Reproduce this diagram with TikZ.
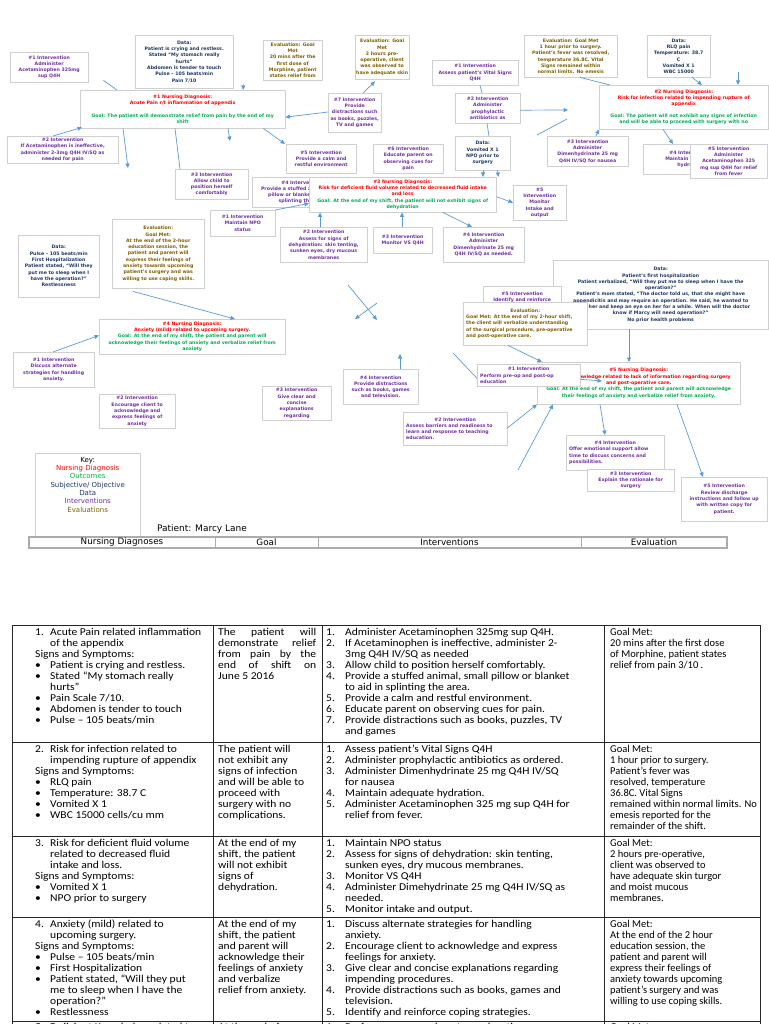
\documentclass[tikz,border=0pt]{standalone}
\usepackage{fontspec}
\usepackage{tikz}
\usetikzlibrary{arrows.meta}
\newfontfamily\mapfont{DejaVu Sans}
\newfontfamily\keyfont{DejaVu Sans}
\newfontfamily\tabfont[FakeStretch=1.1]{Carlito}
\newfontfamily\evalfont{Carlito}
\definecolor{dxred}{HTML}{FF0000}
\definecolor{goalgreen}{HTML}{00B050}
\definecolor{datanavy}{HTML}{1F3864}
\definecolor{intvpurple}{HTML}{7030A0}
\definecolor{evalolive}{HTML}{7F6000}
\definecolor{linkblue}{HTML}{5B9BD5}
\definecolor{boxgray}{HTML}{D0D0D0}
\newcommand{\goaltxt}[1]{\textcolor{goalgreen}{#1}}
\newcommand{\dnum}[1]{\makebox[15pt][l]{#1.}}
\newcommand{\dind}{\hspace*{15pt}}
\newcommand{\bul}{\makebox[15pt][l]{\textbullet}}
\newcommand{\inum}[1]{\makebox[19pt][l]{#1.}}
\newcommand{\iind}{\hspace*{19pt}}
\begin{document}
\begin{tikzpicture}[x=1pt,y=-1pt,
  bx/.style={draw=boxgray,fill=white,anchor=north west,align=center,inner sep=1pt,
    font=\mapfont\bfseries\fontsize{4.7}{6.3}\selectfont,text=#1},
  arr/.style={-{Triangle[length=4.5pt,width=4pt]},draw=linkblue,line width=0.7pt},
  lnk/.style={draw=linkblue,line width=0.7pt},
  cell/.style={anchor=north west,align=left,inner sep=0pt,font=\tabfont\fontsize{10.5}{11}\selectfont},
  ecell/.style={cell,font=\evalfont\fontsize{10.5}{11}\selectfont},
  tbl/.style={draw=black!85,line width=0.6pt}]
\useasboundingbox (0,0) rectangle (768,1024);
% acute pain cluster
\node[bx=intvpurple,minimum width=78pt,minimum height=30pt] (iA1) at (10,52) {\#1 Intervention\\Administer\\Acetaminophen 325mg\\sup Q4H};
\node[bx=datanavy,minimum width=98pt,minimum height=53pt] (dat1) at (135,35) {Data:\\Patient is crying and restless.\\Stated “My stomach really\\hurts”\\Abdomen is tender to touch\\Pulse – 105 beats/min\\Pain 7/10};
\node[bx=dxred,minimum width=205pt,minimum height=38pt] (dx1) at (80,90) {\#1 Nursing Diagnosis:\\Acute Pain r/t inflammation of appendix\\[6pt]\goaltxt{Goal: The patient will demonstrate relief from pain by the end of my}\\\goaltxt{shift}};
\node[bx=intvpurple,minimum width=111pt,minimum height=27pt] (iA2) at (7,136) {\#2 Intervention\\If Acetaminophen is ineffective,\\administer 2-3mg Q4H IV/SQ as\\needed for pain};
\node[bx=evalolive,minimum width=59pt,minimum height=40pt] (ev1) at (263,40) {Evaluation: Goal\\Met\\20 mins after the\\first dose of\\Morphine, patient\\states relief from};
\node[bx=evalolive,minimum width=52pt,minimum height=44pt] (ev3) at (355,35) {Evaluation: Goal\\Met\\2 hours pre-\\operative, client\\was observed to\\have adequate skin};
\node[bx=intvpurple,minimum width=53pt,minimum height=39pt] (iA7) at (328,93) {\#7 Intervention\\Provide\\distractions such\\as books, puzzles,\\TV and games};
\node[bx=intvpurple,minimum width=73pt,minimum height=30pt] (iA3) at (175,169) {\#3 Intervention\\Allow child to\\position herself\\comfortably};
\node[bx=intvpurple,minimum width=100pt,minimum height=30pt] (iA4) at (252,177) {\#4 Intervention\\Provide a stuffed animal, small\\pillow or blanket to aid in\\splinting the area};
\node[bx=intvpurple,minimum width=70pt,minimum height=29pt] (iA5) at (286,144) {\#5 Intervention\\Provide a calm and\\restful environment};
\node[bx=intvpurple,minimum width=70pt,minimum height=29pt] (iA6) at (373,144) {\#6 Intervention\\Educate parent on\\observing cues for\\pain};
% infection cluster
\node[bx=intvpurple,minimum width=86pt,minimum height=25pt] (iB1) at (432,60) {\#1 Intervention\\Assess patient’s Vital Signs\\Q4H};
\node[bx=intvpurple,minimum width=65pt,minimum height=30pt] (iB2) at (455,93) {\#2 Intervention\\Administer\\prophylactic\\antibiotics as};
\node[bx=datanavy,minimum width=55pt,minimum height=34pt] (dat3) at (455,136) {Data:\\Vomited X 1\\NPO prior to\\surgery};
\node[bx=evalolive,minimum width=93pt,minimum height=42pt] (ev2) at (524,35) {Evaluation: Goal Met\\1 hour prior to surgery.\\Patient’s fever was resolved,\\temperature 36.8C. Vital\\Signs remained within\\normal limits. No emesis};
\node[bx=datanavy,minimum width=63pt,minimum height=42pt] (dat2) at (647,35) {Data:\\RLQ pain\\Temperature: 38.7\\C\\Vomited X 1\\WBC 15000};
\node[bx=dxred,minimum width=169pt,minimum height=44pt] (dx2) at (599,85) {\#2 Nursing Diagnosis:\\Risk for infection related to impending rupture of\\appendix\\[5pt]\goaltxt{Goal: The patient will not exhibit any signs of infection}\\\goaltxt{and will be able to proceed with surgery with no}};
\node[bx=intvpurple,minimum width=81pt,minimum height=30pt] (iB3) at (547,136) {\#3 Intervention\\Administer\\Dimenhydrinate 25 mg\\Q4H IV/SQ for nausea};
\node[bx=intvpurple,minimum width=94pt,minimum height=30pt] (iB4) at (643,144) {\#4 Intervention\\Maintain adequate\\hydration};
\node[bx=intvpurple,minimum width=77pt,minimum height=34pt] (iB5) at (690,144) {\#5 Intervention\\Administer\\Acetaminophen 325\\mg sup Q4H for relief\\from fever};
% fluid volume cluster
\node[bx=dxred,minimum width=187pt,minimum height=35pt] (dx3) at (309,177) {\#3 Nursing Diagnosis:\\Risk for deficient fluid volume related to decreased fluid intake\\and loss\\\goaltxt{Goal: At the end of my shift, the patient will not exhibit signs of}\\\goaltxt{dehydration}};
\node[bx=intvpurple,minimum width=65pt,minimum height=26pt] (iC1) at (210,210) {\#1 Intervention\\Maintain NPO\\status};
\node[bx=intvpurple,minimum width=53pt,minimum height=35pt] (iC5) at (513,185) {\#5\\Intervention\\Monitor\\Intake and\\output};
\node[bx=intvpurple,minimum width=87pt,minimum height=35pt] (iC2) at (280,227) {\#2 Intervention\\Assess for signs of\\dehydration: skin tenting,\\sunken eyes, dry mucous\\membranes};
\node[bx=intvpurple,minimum width=59pt,minimum height=26pt] (iC3) at (373,227) {\#3 Intervention\\Monitor VS Q4H};
\node[bx=intvpurple,minimum width=81pt,minimum height=35pt] (iC4) at (443,227) {\#4 Intervention\\Administer\\Dimenhydrinate 25 mg\\Q4H IV/SQ as needed.};
% anxiety cluster
\node[bx=datanavy,minimum width=81pt,minimum height=62pt] (dat4) at (18,235) {Data:\\Pulse – 105 beats/min\\First Hospitalization\\Patient stated, “Will they\\put me to sleep when I\\have the operation?”\\Restlessness};
\node[bx=evalolive,minimum width=92pt,minimum height=69pt] (ev4) at (112,219) {Evaluation:\\Goal Met:\\At the end of the 2-hour\\education session, the\\patient and parent will\\express their feelings of\\anxiety towards upcoming\\patient’s surgery and was\\willing to use coping skills.};
\node[bx=dxred,minimum width=186pt,minimum height=35pt] (dx4) at (99,319) {\#4 Nursing Diagnosis:\\Anxiety (mild) related to upcoming surgery.\\\goaltxt{Goal: At the end of my shift, the patient and parent will}\\\goaltxt{acknowledge their feelings of anxiety and verbalize relief from}\\\goaltxt{anxiety}};
\node[bx=intvpurple,minimum width=81pt,minimum height=35pt] (iD1) at (13,352) {\#1 Intervention\\Discuss alternate\\strategies for handling\\anxiety.};
\node[bx=intvpurple,minimum width=76pt,minimum height=34pt] (iD2) at (99,394) {\#2 Intervention\\Encourage client to\\acknowledge and\\express feelings of\\anxiety};
\node[bx=intvpurple,minimum width=69pt,minimum height=34pt] (iD3) at (262,386) {\#3 Intervention\\Give clear and\\concise\\explanations\\regarding};
\node[bx=intvpurple,minimum width=75pt,minimum height=35pt] (iD4) at (343,369) {\#4 Intervention\\Provide distractions\\such as books, games\\and television.};
% knowledge cluster
\node[bx=datanavy,minimum width=215pt,minimum height=69pt] (dat5) at (553,260) {Data:\\Patient’s first hospitalization\\Patient verbalized, “Will they put me to sleep when I have the\\operation?”\\Patient’s mom stated, “The doctor told us, that she might have\\appendicitis and may require an operation. He said, he wanted to\\watch her and keep an eye on her for a while. When will the doctor\\know if Marcy will need operation?”\\No prior health problems};
\node[bx=intvpurple,minimum width=78pt,minimum height=28pt] (iD5) at (483,286) {\#5 Intervention\\Identify and reinforce\\coping strategies};
\node[bx=evalolive,text width=118pt,align=left,inner sep=3pt,minimum height=43pt] (ev5) at (463,302) {\makebox[\hsize]{Evaluation:}\\Goal Met: At the end of my 2-hour shift,\\the client will verbalize understanding\\of the surgical procedure, pre-operative\\and post-operative care.};
\node[bx=dxred,minimum width=203pt,minimum height=42pt] (dx5) at (537,362) {\#5 Nursing Diagnosis:\\Deficient Knowledge related to lack of information regarding surgery\\and post-operative care.\\\goaltxt{Goal: At the end of my shift, the patient and parent will acknowledge}\\\goaltxt{their feelings of anxiety and verbalize relief from anxiety.}};
\node[bx=intvpurple,text width=97pt,align=left,inner sep=3pt,minimum height=22pt] (iE1) at (477,364) {\makebox[\hsize]{\#1 Intervention}\\Perform pre-op and post-op\\education};
\node[bx=intvpurple,text width=98pt,align=left,inner sep=3pt,minimum height=33pt] (iE2) at (403,412) {\makebox[\hsize]{\#2 Intervention}\\Assess barriers and readiness to\\learn and response to teaching\\education.};
\node[bx=intvpurple,text width=92pt,align=left,inner sep=3pt,minimum height=35pt] (iE4) at (566,435) {\makebox[\hsize]{\#4 Intervention}\\Offer emotional support allow\\time to discuss concerns and\\possibilities.};
\node[bx=intvpurple,minimum width=87pt,minimum height=22pt] (iE3) at (587,469) {\#3 Intervention\\Explain the rationale for\\surgery};
\node[bx=intvpurple,minimum width=86pt,minimum height=44pt] (iE5) at (681,477) {\#5 Intervention\\Review discharge\\instructions and follow up\\with written copy for\\patient.};
% key
\node[draw=boxgray,fill=white,anchor=north west,minimum width=105pt,minimum height=84pt] (key) at (35,453) {};
\node[anchor=north,align=center,inner sep=0pt,font=\keyfont\fontsize{7}{8.3}\selectfont] (keytxt) at ([yshift=-4pt]key.north) {Key:\\\textcolor{dxred}{Nursing Diagnosis}\\\textcolor{goalgreen}{Outcomes}\\\textcolor{datanavy}{Subjective/ Objective}\\\textcolor{datanavy}{Data}\\\textcolor{intvpurple}{Interventions}\\\textcolor{evalolive}{Evaluations}};
% connectors
\draw[lnk] ([xshift=15pt,yshift=2pt]iA1.south east) -- ([xshift=37pt]dx1.north west);
\draw[arr] ([xshift=10pt,yshift=4pt]dat1.south east) -- ([xshift=163pt]dx1.north west);
\draw[arr] ([xshift=46pt]iA2.north west) -- ([xshift=2pt,yshift=1pt]dx1.south west);
\coordinate (p1) at (128,168);
\coordinate (p2) at (230,141);
\draw[arr] ([xshift=43pt]dx1.south west) -- (p1);
\draw[lnk] ([xshift=95pt]dx1.south west) -- ([xshift=5pt]iA3.north west);
\draw[arr] ([xshift=148pt]dx1.south west) -- (p2);
\draw[arr] ([yshift=-19pt]iA7.north west) -- ([yshift=-8pt]dx1.east);
\draw[arr] ([xshift=35pt]iA7.north west) -- ([xshift=20pt,yshift=-2pt]ev3.south west);
\draw[arr] ([xshift=-22pt]dx1.south east) -- ([xshift=-1pt]iA5.north west);
\draw[lnk] ([xshift=48pt]iB1.south west) -- ([xshift=27pt]iB2.north west);
\draw[lnk] ([xshift=32pt]iB2.south west) -- ([xshift=34pt]dat3.north west);
\draw[lnk] ([xshift=56pt]ev2.south west) -- ([xshift=11pt]dx2.north west);
\draw[arr] ([xshift=45pt]dat2.south west) -- ([xshift=103pt]dx2.north west);
\coordinate (q1) at (738,72);
\coordinate (q2) at (568,110);
\coordinate (q3) at (537,135);
\coordinate (q4) at (567,119);
\draw[arr] (q1) -- ([xshift=139pt]dx2.north west);
\draw[arr] ([yshift=-2pt]iB2.east) -- (q2);
\draw[lnk] (q3) -- (q4);
\draw[arr] ([xshift=49pt]iB3.north west) -- (dx2.south west);
\draw[arr] ([xshift=64pt]dx2.south west) -- ([xshift=30pt]iB4.north west);
\draw[arr] ([xshift=28pt]dat3.south west) -- ([xshift=174pt]dx3.north west);
\draw[arr] ([xshift=-13pt]dat3.south east) -- ([xshift=2pt]dx3.north east);
\draw[arr] ([yshift=-2pt]dx3.east) -- (iC5.west);
\draw[arr] ([xshift=40pt]iC2.north west) -- ([xshift=11pt]dx3.south west);
\draw[arr] ([xshift=29pt]iC3.north west) -- ([xshift=93pt]dx3.south west);
\draw[arr] ([xshift=134pt]dx3.south west) -- ([xshift=29pt]iC4.north west);
\draw[arr] (iC1.north east) -- ([yshift=9pt]dx3.south west);
\draw[arr] ([xshift=21pt,yshift=-3pt]ev4.south west) -- ([xshift=136pt]dx4.north west);
\draw[arr] ([xshift=40pt]iD1.north west) -- ([yshift=19pt]dx4.south west);
\coordinate (a1) at (348,285);
\coordinate (a2) at (377,320);
\coordinate (a3) at (377,303);
\coordinate (a4) at (355,319);
\coordinate (a5) at (400,354);
\draw[arr] (a1) -- (a2);
\draw[arr] (a3) -- (a4);
\draw[arr] ([xshift=57pt]iD4.north west) -- (a5);
\coordinate (k1) at (453,353);
\coordinate (k2) at (602,381);
\coordinate (k3) at (518,470);
\draw[lnk] (k1) -- ([yshift=-3pt]iE1.west);
\draw[arr] ([xshift=76pt]dat5.south west) -- ([xshift=92pt]dx5.north west);
\draw[arr] ([xshift=45pt]ev5.south west) -- ([xshift=5pt]dx5.north west);
\draw[arr] ([yshift=-4pt]iE1.east) -- (k2);
\draw[arr] ([yshift=-16pt]iE2.north east) -- (dx5.south west);
\draw[arr] (k3) -- ([xshift=16pt]dx5.south west);
\draw[arr] ([xshift=63pt]dx5.south west) -- ([xshift=39pt]iE4.north west);
\draw[arr] ([xshift=140pt]dx5.south west) -- ([xshift=22pt]iE5.north west);
% header
\node[inner sep=0pt,font=\keyfont\fontsize{9}{11}\selectfont] (patient) at (202,529) {Patient: Marcy Lane};
\draw[draw=gray!65,line width=1.1pt] (29,537) rectangle (727,548);
\foreach \hx in {215,318,581} \draw[draw=gray!65,line width=0.8pt] (\hx,537) -- (\hx,548);
\node[inner sep=0pt,font=\keyfont\fontsize{8.8}{10}\selectfont] (hdx) at (122,542.5) {Nursing Diagnoses};
\node[inner sep=0pt,font=\keyfont\fontsize{8.8}{10}\selectfont] (hgoal) at (266.5,542.5) {Goal};
\node[inner sep=0pt,font=\keyfont\fontsize{8.8}{10}\selectfont] (hint) at (449.5,542.5) {Interventions};
\node[inner sep=0pt,font=\keyfont\fontsize{8.8}{10}\selectfont] (heval) at (654,542.5) {Evaluation};
% care plan table
\draw[tbl] (12,625) rectangle (760,1040);
\foreach \ry in {742,836,917,1021} \draw[tbl] (12,\ry) -- (760,\ry);
\foreach \cx in {213,322,604} \draw[tbl] (\cx,625) -- (\cx,1040);
\node[cell] (r1dx) at (35,628) {\dnum{1}Acute Pain related inflammation\\\dind of the appendix\\Signs and Symptoms:\\\bul Patient is crying and restless.\\\bul Stated “My stomach really\\\dind hurts”\\\bul Pain Scale 7/10.\\\bul Abdomen is tender to touch\\\bul Pulse – 105 beats/min};
\node[cell,text width=98pt,align=justify] (r1g) at (218,628) {The patient will\linebreak demonstrate relief\linebreak from pain by the\linebreak end of shift on\linebreak June 5 2016};
\node[cell] (r1i) at (326,628) {\inum{1}Administer Acetaminophen 325mg sup Q4H.\\\inum{2}If Acetaminophen is ineffective, administer 2-\\\iind 3mg Q4H IV/SQ as needed\\\inum{3}Allow child to position herself comfortably.\\\inum{4}Provide a stuffed animal, small pillow or blanket\\\iind to aid in splinting the area.\\\inum{5}Provide a calm and restful environment.\\\inum{6}Educate parent on observing cues for pain.\\\inum{7}Provide distractions such as books, puzzles, TV\\\iind and games};
\node[ecell] (r1e) at (610,628) {Goal Met:\\20 mins after the first dose\\of Morphine, patient states\\relief from pain 3/10 .};
\node[cell] (r2dx) at (35,745) {\dnum{2}Risk for infection related to\\\dind impending rupture of appendix\\Signs and Symptoms:\\\bul RLQ pain\\\bul Temperature: 38.7 C\\\bul Vomited X 1\\\bul WBC 15000 cells/cu mm};
\node[cell] (r2g) at (218,745) {The patient will\\not exhibit any\\signs of infection\\and will be able to\\proceed with\\surgery with no\\complications.};
\node[cell] (r2i) at (326,745) {\inum{1}Assess patient’s Vital Signs Q4H\\\inum{2}Administer prophylactic antibiotics as ordered.\\\inum{3}Administer Dimenhydrinate 25 mg Q4H IV/SQ\\\iind for nausea\\\inum{4}Maintain adequate hydration.\\\inum{5}Administer Acetaminophen 325 mg sup Q4H for\\\iind relief from fever.};
\node[ecell] (r2e) at (610,745) {Goal Met:\\1 hour prior to surgery.\\Patient’s fever was\\resolved, temperature\\36.8C. Vital Signs\\remained within normal limits. No\\emesis reported for the\\remainder of the shift.};
\node[cell] (r3dx) at (35,839) {\dnum{3}Risk for deficient fluid volume\\\dind related to decreased fluid\\\dind intake and loss.\\Signs and Symptoms:\\\bul Vomited X 1\\\bul NPO prior to surgery};
\node[cell] (r3g) at (218,839) {At the end of my\\shift, the patient\\will not exhibit\\signs of\\dehydration.};
\node[cell] (r3i) at (326,839) {\inum{1}Maintain NPO status\\\inum{2}Assess for signs of dehydration: skin tenting,\\\iind sunken eyes, dry mucous membranes.\\\inum{3}Monitor VS Q4H\\\inum{4}Administer Dimehydrinate 25 mg Q4H IV/SQ as\\\iind needed.\\\inum{5}Monitor intake and output.};
\node[ecell] (r3e) at (610,839) {Goal Met:\\2 hours pre-operative,\\client was observed to\\have adequate skin turgor\\and moist mucous\\membranes.};
\node[cell] (r4dx) at (35,920) {\dnum{4}Anxiety (mild) related to\\\dind upcoming surgery.\\Signs and Symptoms:\\\bul Pulse – 105 beats/min\\\bul First Hospitalization\\\bul Patient stated, “Will they put\\\dind me to sleep when I have the\\\dind operation?”\\\bul Restlessness};
\node[cell] (r4g) at (218,920) {At the end of my\\shift, the patient\\and parent will\\acknowledge their\\feelings of anxiety\\and verbalize\\relief from anxiety.};
\node[cell] (r4i) at (326,920) {\inum{1}Discuss alternate strategies for handling\\\iind anxiety.\\\inum{2}Encourage client to acknowledge and express\\\iind feelings for anxiety.\\\inum{3}Give clear and concise explanations regarding\\\iind impending procedures.\\\inum{4}Provide distractions such as books, games and\\\iind television.\\\inum{5}Identify and reinforce coping strategies.};
\node[ecell] (r4e) at (610,920) {Goal Met:\\At the end of the 2 hour\\education session, the\\patient and parent will\\express their feelings of\\anxiety towards upcoming\\patient’s surgery and was\\willing to use coping skills.};
\node[cell] (r5dx) at (35,1023) {\dnum{5}Deficient Knowledge related to};
\node[cell] (r5g) at (218,1023) {At the end of my};
\node[cell] (r5i) at (326,1023) {\inum{1}Perform pre-op and post-op education};
\node[ecell] (r5e) at (610,1023) {Goal Met:};
\end{tikzpicture}
\end{document}
